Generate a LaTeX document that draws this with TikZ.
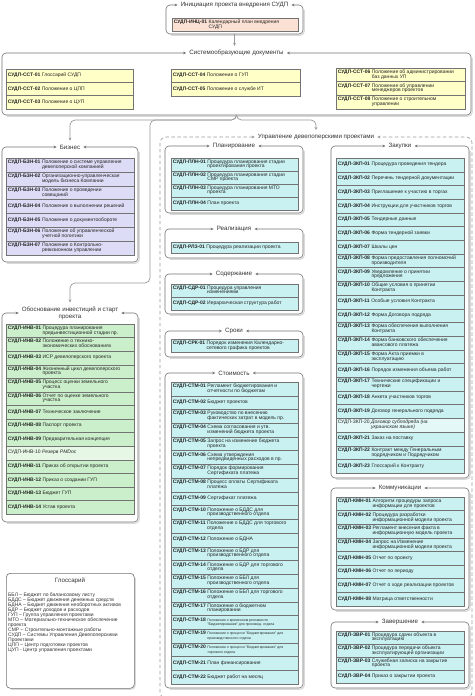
\documentclass[tikz,border=0pt]{standalone}
\usepackage{fontspec}
\setmainfont{Liberation Sans}
\usetikzlibrary{arrows.meta}
\definecolor{cyanrow}{HTML}{C9F1F1}
\definecolor{cyanlt}{HTML}{E4F8F8}
\definecolor{greenrow}{HTML}{CBEFCB}
\definecolor{greenlt}{HTML}{E6F7E6}
\definecolor{lavrow}{HTML}{DCDCF6}
\definecolor{yelrow}{HTML}{FFFFC8}
\definecolor{peachrow}{HTML}{FBE1D4}
\newcommand\rowfont{\fontsize{5}{4.6}\selectfont}
\newcommand\titlefont{\fontsize{6.2}{6.8}\selectfont}
\newcommand\glossfont{\fontsize{5}{5}\selectfont}
\newcommand\smallrow{\fontsize{3.5}{4}\selectfont}
\newcounter{rowi}
\newcommand\startlist[5]{\gdef\Lx{#1}\gdef\Ly{#2}\gdef\Lw{#3}\gdef\Lh{#4}\gdef\Lc{#5}\setcounter{rowi}{0}}
\newcommand\rowcore[4]{%
  \pgfmathsetmacro\Ltop{\Ly+\the\value{rowi}*\Lh}%
  \node[rowbox, fill=#1, minimum width=\Lw pt, minimum height=\Lh pt, anchor=north west] (#2) at (\Lx,\Ltop) {};%
  \node[rowtext] (#2txt) at ([xshift=1.6pt]#2.west) {\begin{tabular}{@{}l@{\hspace{0.3em}}l@{}}#3 & #4\end{tabular}};%
  \stepcounter{rowi}}
\newcommand\docitem[3]{\rowcore{\Lc}{#1}{\textbf{#2}}{#3}}
\newcommand\cshadow[4]{\draw[shadowline] (#3+1.2,#2+5) -- (#3+1.2,#4+1.2) -- (#1+5,#4+1.2);}
\newcommand\container[5]{% name x1 y1 x2 y2, title in \ctitletext
  \cshadow{#2}{#3}{#4}{#5}%
  \coordinate (#1s) at ({(#2+#4)/2},#5);%
  \node[ctitle] (#1t) at ({(#2+#4)/2},#3) {\ctitletext};%
  \draw[cont] (#1t.west) -- (#2,#3) -- (#2,#5) -- (#4,#5) -- (#4,#3) -- (#1t.east);}
\tikzset{
  >={Stealth[length=3pt,width=2.8pt]},
  rowbox/.style={draw=black!55, line width=0.35pt, inner sep=0pt, outer sep=0pt},
  rowtext/.style={inner sep=0pt, font=\rowfont, text=black!85, anchor=west},
  cont/.style={draw=black!55, line width=0.6pt, rounded corners=4pt, <->},
  shadowline/.style={draw=black!15, line width=1.2pt, rounded corners=4pt},
  ctitle/.style={font=\titlefont, text=black!80, inner sep=3pt, align=center},
  conn/.style={draw=black!40, line width=0.7pt, rounded corners=5pt, ->, shorten >=1pt},
}
\begin{document}
\begin{tikzpicture}[x=1pt,y=-1pt]
\useasboundingbox (0,0) rectangle (474,696);
\fill[white] (0,0) rectangle (474,696);

% ---------- Initiation ----------
\def\ctitletext{Инициация проекта внедрения СУДП}
\container{init}{166}{5}{303}{34}
\startlist{172}{18}{126}{13}{peachrow}
\docitem{inc01}{СУДП-ИНЦ-01}{Календарный план внедрения\\&СУДП}

% ---------- System documents ----------
\def\ctitletext{Системообразующие документы}
\container{sys}{2}{53}{471}{115}
\startlist{6}{69}{127}{13.33}{yelrow}
\docitem{sst01}{СУДП-ССТ-01}{Глоссарий СУДП}
\docitem{sst02}{СУДП-ССТ-02}{Положение о ЦПП}
\docitem{sst03}{СУДП-ССТ-03}{Положение о ЦУП}
\startlist{171}{69}{129}{13.5}{yelrow}
\docitem{sst04}{СУДП-ССТ-04}{Положение о ГУП}
\docitem{sst05}{СУДП-ССТ-05}{Положение о службе ИТ}
\startlist{336}{68}{129}{13.67}{yelrow}
\docitem{sst06}{СУДП-ССТ-06}{Положение об администрировании\\&баз данных УП}
\docitem{sst07}{СУДП-ССТ-07}{Положение об управлении\\&менеджеров проектов}
\docitem{sst08}{СУДП-ССТ-08}{Положение о строительном\\&управлении}

% ---------- Business ----------
\def\ctitletext{Бизнес}
\container{biz}{2}{147}{138}{262}
\startlist{6}{158}{128}{13.86}{lavrow}
\docitem{bzn01}{СУДП-БЗН-01}{Положение о системе управления\\&девелоперской компанией}
\docitem{bzn02}{СУДП-БЗН-02}{Организационно-управленческая\\&модель бизнеса Компании}
\docitem{bzn03}{СУДП-БЗН-03}{Положение о проведении\\&совещаний}
\docitem{bzn04}{СУДП-БЗН-04}{Положение о выполнении решений}
\docitem{bzn05}{СУДП-БЗН-05}{Положение о документообороте}
\docitem{bzn06}{СУДП-БЗН-06}{Положение об управленческой\\&учетной политики}
\docitem{bzn07}{СУДП-БЗН-07}{Положение о Контрольно-\\&ревизионном управлении}

% ---------- Investment ----------
\def\ctitletext{Обоснование инвестиций и старт\\проекта}
\container{inv}{2}{313}{138}{522}
\startlist{6}{324}{128}{13.57}{greenrow}
\docitem{inv01}{СУДП-ИНВ-01}{Процедура планирования\\&предынвестиционной стадии пр.}
\docitem{inv02}{СУДП-ИНВ-02}{Положение о технико-\\&экономических обоснованиях}
\docitem{inv03}{СУДП-ИНВ-03}{ИСР девелоперского проекта}
\docitem{inv04}{СУДП-ИНВ-04}{Жизненный цикл девелоперского\\&проекта}
\docitem{inv05}{СУДП-ИНВ-05}{Процесс оценки земельного\\&участка}
\docitem{inv06}{СУДП-ИНВ-06}{Отчет по оценке земельного\\&участка}
\docitem{inv07}{СУДП-ИНВ-07}{Техническое заключение}
\docitem{inv08}{СУДП-ИНВ-08}{Паспорт проекта}
\docitem{inv09}{СУДП-ИНВ-09}{Предварительная концепция}
\rowcore{greenlt}{inv10}{СУДП-ИНВ-10}{\textit{Резерв PMDoc}}
\docitem{inv11}{СУДП-ИНВ-11}{Приказ об открытии проекта}
\docitem{inv12}{СУДП-ИНВ-12}{Приказ о создании ГУП}
\docitem{inv13}{СУДП-ИНВ-13}{Бюджет ГУП}
\docitem{inv14}{СУДП-ИНВ-14}{Устав проекта}

% ---------- Glossary ----------
\cshadow{6}{573}{134}{688}
\node[draw=black!55, line width=0.6pt, rounded corners=4pt, minimum width=128pt, minimum height=115pt, anchor=north west, inner sep=0pt] (gloss) at (6,573) {};
\node[font=\titlefont, text=black!80] (glosst) at (70,581) {Глоссарий};
\node[anchor=north west, inner sep=0pt, align=left, font=\glossfont, text=black!80] (glosstxt) at (8,593) {%
ББЛ – Бюджет по балансовому листу\\
БДДС – Бюджет движения денежных средств\\
БДНА – Бюджет движения необоротных активов\\
БДР – Бюджет доходов и расходов\\
ГУП – Группа управления проектами\\
МТО – Материально-техническое обеспечение\\
проекта\\
СМР – Строительно-монтажные работы\\
СУДП – Системы Управления Девелоперскими\\
Проектами\\
ЦПП – Центр подготовки проектов\\
ЦУП - Центр управления проектами};

% ---------- Management (dashed) ----------
\node[ctitle] (mgmtt) at (316,137) {Управление девелоперскими проектами};
\draw[draw=black!40, line width=0.6pt, rounded corners=6pt, <->, dash pattern=on 3.5pt off 2.5pt] (mgmtt.west) -- (160,137) -- (160,698) -- (472,698) -- (472,137) -- (mgmtt.east);

\def\ctitletext{Планирование}
\container{plan}{165}{146}{303}{213}
\startlist{171}{158}{127}{13}{cyanrow}
\docitem{pln01}{СУДП-ПЛН-01}{Процедура планирования стадии\\&проектирования проекта}
\docitem{pln02}{СУДП-ПЛН-02}{Процедура планирования стадии\\&СМР проекта}
\docitem{pln03}{СУДП-ПЛН-03}{Процедура планирования МТО\\&проекта}
\docitem{pln04}{СУДП-ПЛН-04}{План проекта}

\def\ctitletext{Реализация}
\container{real}{165}{229}{303}{258}
\startlist{171}{242}{127}{11}{cyanrow}
\docitem{rlz01}{СУДП-РЛЗ-01}{Процедура реализации проекта}

\def\ctitletext{Содержание}
\container{sod}{165}{274}{303}{314}
\startlist{171}{284}{127}{13}{cyanrow}
\docitem{sdr01}{СУДП-СДР-01}{Процедура управления\\&изменениями}
\docitem{sdr02}{СУДП-СДР-02}{Иерархическая структура работ}

\def\ctitletext{Сроки}
\container{srk}{165}{331}{303}{357}
\startlist{171}{339}{127}{13}{cyanrow}
\docitem{srk01}{СУДП-СРК-01}{Порядок изменения Календарно-\\&сетевого графика проектов}

\def\ctitletext{Стоимость}
\container{stm}{165}{373}{303}{688}
\startlist{171}{382}{127}{13.73}{cyanrow}
\docitem{stm01}{СУДП-СТМ-01}{Регламент бюджетирования и\\&отчетности по бюджетам}
\docitem{stm02}{СУДП-СТМ-02}{Бюджет проектов}
\docitem{stm03}{СУДП-СТМ-03}{Руководство по внесению\\&фактических затрат в модель пр.}
\docitem{stm04}{СУДП-СТМ-04}{Схема согласования и утв.\\&изменений бюджета проекта}
\docitem{stm05}{СУДП-СТМ-05}{Запрос на изменение бюджета\\&проекта}
\docitem{stm06}{СУДП-СТМ-06}{Схема утверждения\\&непредвиденных расходов в пр.}
\docitem{stm07}{СУДП-СТМ-07}{Порядок формирования\\&Сертификата платежа}
\docitem{stm08}{СУДП-СТМ-08}{Процесс оплаты Сертификата\\&платежа}
\docitem{stm09}{СУДП-СТМ-09}{Сертификат платежа}
\docitem{stm10}{СУДП-СТМ-10}{Положение о БДДС для\\&производственного отдела}
\docitem{stm11}{СУДП-СТМ-11}{Положение о БДДС для торгового\\&отдела}
\docitem{stm12}{СУДП-СТМ-12}{Положение о БДНА}
\docitem{stm13}{СУДП-СТМ-13}{Положение о БДР для\\&производственного отдела}
\docitem{stm14}{СУДП-СТМ-14}{Положение о БДР для торгового\\&отдела}
\docitem{stm15}{СУДП-СТМ-15}{Положение о ББЛ для\\&производственного отдела}
\docitem{stm16}{СУДП-СТМ-16}{Положение о ББЛ для торгового\\&отдела}
\docitem{stm17}{СУДП-СТМ-17}{Положение о бюджетном\\&планировании}
\docitem{stm18}{СУДП-СТМ-18}{\smallrow Положение о временном регламенте\\&\smallrow "Бюджетирование" для производ. отдела}
\docitem{stm19}{СУДП-СТМ-19}{\smallrow Положение о процессе "Бюджетирование" для\\&\smallrow производственного отдела}
\docitem{stm20}{СУДП-СТМ-20}{\smallrow Положение о процессе "Бюджетирование" для\\&\smallrow торгового отдела}
\docitem{stm21}{СУДП-СТМ-21}{План финансирования}
\docitem{stm22}{СУДП-СТМ-22}{Бюджет работ на месяц}

\def\ctitletext{Закупки}
\container{zkp}{331}{146}{469}{478}
\startlist{336}{158}{128}{13.7}{cyanrow}
\docitem{zkp01}{СУДП-ЗКП-01}{Процедура проведения тендера}
\docitem{zkp02}{СУДП-ЗКП-02}{Перечень тендерной документации}
\docitem{zkp03}{СУДП-ЗКП-03}{Приглашение к участию в торгах}
\docitem{zkp04}{СУДП-ЗКП-04}{Инструкции для участников торгов}
\docitem{zkp05}{СУДП-ЗКП-05}{Тендерные данные}
\docitem{zkp06}{СУДП-ЗКП-06}{Форма тендерной заявки}
\docitem{zkp07}{СУДП-ЗКП-07}{Шкалы цен}
\docitem{zkp08}{СУДП-ЗКП-08}{Форма предоставления полномочий\\&производителя}
\docitem{zkp09}{СУДП-ЗКП-09}{Уведомление о принятии\\&предложения}
\docitem{zkp10}{СУДП-ЗКП-10}{Общие условия о принятии\\&Контракта}
\docitem{zkp11}{СУДП-ЗКП-11}{Особые условия Контракта}
\docitem{zkp12}{СУДП-ЗКП-12}{Форма Договора подряда}
\docitem{zkp13}{СУДП-ЗКП-13}{Форма обеспечения выполнения\\&Контракта}
\docitem{zkp14}{СУДП-ЗКП-14}{Форма банковского обеспечения\\&авансового платежа}
\docitem{zkp15}{СУДП-ЗКП-15}{Форма Акта приемки в\\&эксплуатацию}
\docitem{zkp16}{СУДП-ЗКП-16}{Порядок изменения объема работ}
\docitem{zkp17}{СУДП-ЗКП-17}{Технические спецификации и\\&чертежи}
\docitem{zkp18}{СУДП-ЗКП-18}{Анкета участников торгов}
\docitem{zkp19}{СУДП-ЗКП-19}{Договор генерального подряда}
\rowcore{cyanlt}{zkp20}{СУДП-ЗКП-20}{\textit{Договор субподряда (на}\\&\textit{украинском языке)}}
\docitem{zkp21}{СУДП-ЗКП-21}{Заказ на поставку}
\docitem{zkp22}{СУДП-ЗКП-22}{Контракт между Генеральным\\&подрядчиком и Подрядчиком}
\docitem{zkp23}{СУДП-ЗКП-23}{Глоссарий к Контракту}

\def\ctitletext{Коммуникации}
\container{kmn}{331}{488}{469}{610}
\startlist{336}{497}{128}{13.6}{cyanrow}
\docitem{kmn01}{СУДП-КМН-01}{Алгоритм процедуры запроса\\&информации для проектов}
\docitem{kmn02}{СУДП-КМН-02}{Процедура разработки\\&информационной модели проекта}
\docitem{kmn03}{СУДП-КМН-03}{Регламент внесения факта в\\&информационную модель проекта}
\docitem{kmn04}{СУДП-КМН-04}{Запрос на Изменение\\&информационной модели проекта}
\docitem{kmn05}{СУДП-КМН-05}{Отчет по проекту}
\docitem{kmn06}{СУДП-КМН-06}{Отчет по периоду}
\docitem{kmn07}{СУДП-КМН-07}{Отчет о ходе реализации проектов}
\docitem{kmn08}{СУДП-КМН-08}{Матрица ответственности}

\def\ctitletext{Завершение}
\container{zvr}{331}{622}{469}{688}
\startlist{336}{631}{128}{13}{cyanrow}
\docitem{zvr01}{СУДП-ЗВР-01}{Процедура сдачи объекта в\\&эксплуатацию}
\docitem{zvr02}{СУДП-ЗВР-02}{Процедура передачи объекта\\&эксплуатирующей организации}
\docitem{zvr03}{СУДП-ЗВР-03}{Служебная записка на закрытие\\&проекта}
\docitem{zvr04}{СУДП-ЗВР-04}{Приказ о закрытии проекта}

% ---------- Connectors ----------
\draw[conn] (inits) -- (inits |- syst.north);
\draw[conn] (syss) -- ++(0,5) -| (bizt.north);
\draw[conn] (syss) -- ++(0,5) -| (mgmtt.north);
\draw[conn] (syss) -- ++(0,5) -| (150,283) -| (invt.north);
\end{tikzpicture}
\end{document}
